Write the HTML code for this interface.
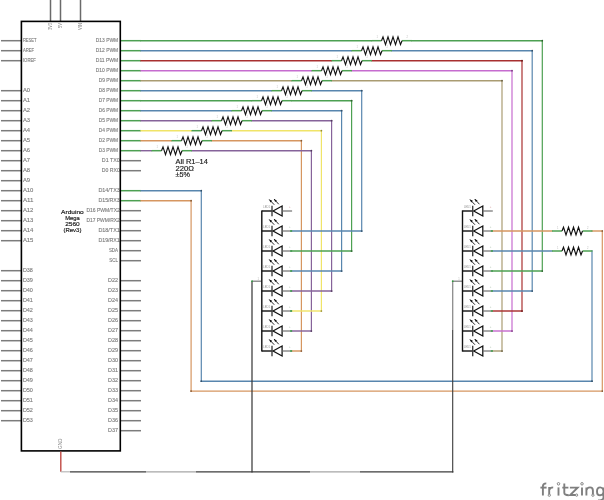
<!DOCTYPE html>
<html><head><meta charset="utf-8"><style>
html,body{margin:0;padding:0;background:#fff;}
svg{display:block;font-family:"Liberation Sans",sans-serif;will-change:transform;}
</style></head><body>
<svg width="604" height="500" viewBox="0 0 604 500">
<rect width="604" height="500" fill="#fff"/>
<line x1="1" y1="40.7" x2="21.4" y2="40.7" stroke="#7c7c7c" stroke-width="1.5" stroke-linecap="butt"/>
<text x="22.9" y="42.45" font-size="4.8" fill="#7e7e7e" text-anchor="start" textLength="13.6" lengthAdjust="spacingAndGlyphs" stroke="#7e7e7e" stroke-width="0.12">RESET</text>
<line x1="1" y1="50.7" x2="21.4" y2="50.7" stroke="#7c7c7c" stroke-width="1.5" stroke-linecap="butt"/>
<text x="22.9" y="52.45" font-size="4.8" fill="#7e7e7e" text-anchor="start" textLength="11.200000000000001" lengthAdjust="spacingAndGlyphs" stroke="#7e7e7e" stroke-width="0.12">AREF</text>
<line x1="1" y1="60.7" x2="21.4" y2="60.7" stroke="#7c7c7c" stroke-width="1.5" stroke-linecap="butt"/>
<text x="22.9" y="62.45" font-size="4.8" fill="#7e7e7e" text-anchor="start" textLength="13.0" lengthAdjust="spacingAndGlyphs" stroke="#7e7e7e" stroke-width="0.12">IOREF</text>
<line x1="1" y1="90.7" x2="21.4" y2="90.7" stroke="#7c7c7c" stroke-width="1.5" stroke-linecap="butt"/>
<text x="22.9" y="92.45" font-size="4.8" fill="#7e7e7e" text-anchor="start" textLength="7.1000000000000005" lengthAdjust="spacingAndGlyphs" stroke="#7e7e7e" stroke-width="0.12">A0</text>
<line x1="1" y1="100.7" x2="21.4" y2="100.7" stroke="#7c7c7c" stroke-width="1.5" stroke-linecap="butt"/>
<text x="22.9" y="102.45" font-size="4.8" fill="#7e7e7e" text-anchor="start" textLength="7.1000000000000005" lengthAdjust="spacingAndGlyphs" stroke="#7e7e7e" stroke-width="0.12">A1</text>
<line x1="1" y1="110.7" x2="21.4" y2="110.7" stroke="#7c7c7c" stroke-width="1.5" stroke-linecap="butt"/>
<text x="22.9" y="112.45" font-size="4.8" fill="#7e7e7e" text-anchor="start" textLength="7.1000000000000005" lengthAdjust="spacingAndGlyphs" stroke="#7e7e7e" stroke-width="0.12">A2</text>
<line x1="1" y1="120.7" x2="21.4" y2="120.7" stroke="#7c7c7c" stroke-width="1.5" stroke-linecap="butt"/>
<text x="22.9" y="122.45" font-size="4.8" fill="#7e7e7e" text-anchor="start" textLength="7.1000000000000005" lengthAdjust="spacingAndGlyphs" stroke="#7e7e7e" stroke-width="0.12">A3</text>
<line x1="1" y1="130.7" x2="21.4" y2="130.7" stroke="#7c7c7c" stroke-width="1.5" stroke-linecap="butt"/>
<text x="22.9" y="132.45" font-size="4.8" fill="#7e7e7e" text-anchor="start" textLength="7.1000000000000005" lengthAdjust="spacingAndGlyphs" stroke="#7e7e7e" stroke-width="0.12">A4</text>
<line x1="1" y1="140.7" x2="21.4" y2="140.7" stroke="#7c7c7c" stroke-width="1.5" stroke-linecap="butt"/>
<text x="22.9" y="142.45" font-size="4.8" fill="#7e7e7e" text-anchor="start" textLength="7.1000000000000005" lengthAdjust="spacingAndGlyphs" stroke="#7e7e7e" stroke-width="0.12">A5</text>
<line x1="1" y1="150.7" x2="21.4" y2="150.7" stroke="#7c7c7c" stroke-width="1.5" stroke-linecap="butt"/>
<text x="22.9" y="152.45" font-size="4.8" fill="#7e7e7e" text-anchor="start" textLength="7.1000000000000005" lengthAdjust="spacingAndGlyphs" stroke="#7e7e7e" stroke-width="0.12">A6</text>
<line x1="1" y1="160.7" x2="21.4" y2="160.7" stroke="#7c7c7c" stroke-width="1.5" stroke-linecap="butt"/>
<text x="22.9" y="162.45" font-size="4.8" fill="#7e7e7e" text-anchor="start" textLength="7.1000000000000005" lengthAdjust="spacingAndGlyphs" stroke="#7e7e7e" stroke-width="0.12">A7</text>
<line x1="1" y1="170.7" x2="21.4" y2="170.7" stroke="#7c7c7c" stroke-width="1.5" stroke-linecap="butt"/>
<text x="22.9" y="172.45" font-size="4.8" fill="#7e7e7e" text-anchor="start" textLength="7.1000000000000005" lengthAdjust="spacingAndGlyphs" stroke="#7e7e7e" stroke-width="0.12">A8</text>
<line x1="1" y1="180.7" x2="21.4" y2="180.7" stroke="#7c7c7c" stroke-width="1.5" stroke-linecap="butt"/>
<text x="22.9" y="182.45" font-size="4.8" fill="#7e7e7e" text-anchor="start" textLength="7.1000000000000005" lengthAdjust="spacingAndGlyphs" stroke="#7e7e7e" stroke-width="0.12">A9</text>
<line x1="1" y1="190.7" x2="21.4" y2="190.7" stroke="#7c7c7c" stroke-width="1.5" stroke-linecap="butt"/>
<text x="22.9" y="192.45" font-size="4.8" fill="#7e7e7e" text-anchor="start" textLength="10.5" lengthAdjust="spacingAndGlyphs" stroke="#7e7e7e" stroke-width="0.12">A10</text>
<line x1="1" y1="200.7" x2="21.4" y2="200.7" stroke="#7c7c7c" stroke-width="1.5" stroke-linecap="butt"/>
<text x="22.9" y="202.45" font-size="4.8" fill="#7e7e7e" text-anchor="start" textLength="10.5" lengthAdjust="spacingAndGlyphs" stroke="#7e7e7e" stroke-width="0.12">A11</text>
<line x1="1" y1="210.7" x2="21.4" y2="210.7" stroke="#7c7c7c" stroke-width="1.5" stroke-linecap="butt"/>
<text x="22.9" y="212.45" font-size="4.8" fill="#7e7e7e" text-anchor="start" textLength="10.5" lengthAdjust="spacingAndGlyphs" stroke="#7e7e7e" stroke-width="0.12">A12</text>
<line x1="1" y1="220.7" x2="21.4" y2="220.7" stroke="#7c7c7c" stroke-width="1.5" stroke-linecap="butt"/>
<text x="22.9" y="222.45" font-size="4.8" fill="#7e7e7e" text-anchor="start" textLength="10.5" lengthAdjust="spacingAndGlyphs" stroke="#7e7e7e" stroke-width="0.12">A13</text>
<line x1="1" y1="230.7" x2="21.4" y2="230.7" stroke="#7c7c7c" stroke-width="1.5" stroke-linecap="butt"/>
<text x="22.9" y="232.45" font-size="4.8" fill="#7e7e7e" text-anchor="start" textLength="10.5" lengthAdjust="spacingAndGlyphs" stroke="#7e7e7e" stroke-width="0.12">A14</text>
<line x1="1" y1="240.7" x2="21.4" y2="240.7" stroke="#7c7c7c" stroke-width="1.5" stroke-linecap="butt"/>
<text x="22.9" y="242.45" font-size="4.8" fill="#7e7e7e" text-anchor="start" textLength="10.5" lengthAdjust="spacingAndGlyphs" stroke="#7e7e7e" stroke-width="0.12">A15</text>
<line x1="1" y1="270.7" x2="21.4" y2="270.7" stroke="#7c7c7c" stroke-width="1.5" stroke-linecap="butt"/>
<text x="22.9" y="272.45" font-size="4.8" fill="#7e7e7e" text-anchor="start" textLength="10.0" lengthAdjust="spacingAndGlyphs" stroke="#7e7e7e" stroke-width="0.12">D38</text>
<line x1="1" y1="280.7" x2="21.4" y2="280.7" stroke="#7c7c7c" stroke-width="1.5" stroke-linecap="butt"/>
<text x="22.9" y="282.45" font-size="4.8" fill="#7e7e7e" text-anchor="start" textLength="10.0" lengthAdjust="spacingAndGlyphs" stroke="#7e7e7e" stroke-width="0.12">D39</text>
<line x1="1" y1="290.7" x2="21.4" y2="290.7" stroke="#7c7c7c" stroke-width="1.5" stroke-linecap="butt"/>
<text x="22.9" y="292.45" font-size="4.8" fill="#7e7e7e" text-anchor="start" textLength="10.0" lengthAdjust="spacingAndGlyphs" stroke="#7e7e7e" stroke-width="0.12">D40</text>
<line x1="1" y1="300.7" x2="21.4" y2="300.7" stroke="#7c7c7c" stroke-width="1.5" stroke-linecap="butt"/>
<text x="22.9" y="302.45" font-size="4.8" fill="#7e7e7e" text-anchor="start" textLength="10.0" lengthAdjust="spacingAndGlyphs" stroke="#7e7e7e" stroke-width="0.12">D41</text>
<line x1="1" y1="310.7" x2="21.4" y2="310.7" stroke="#7c7c7c" stroke-width="1.5" stroke-linecap="butt"/>
<text x="22.9" y="312.45" font-size="4.8" fill="#7e7e7e" text-anchor="start" textLength="10.0" lengthAdjust="spacingAndGlyphs" stroke="#7e7e7e" stroke-width="0.12">D42</text>
<line x1="1" y1="320.7" x2="21.4" y2="320.7" stroke="#7c7c7c" stroke-width="1.5" stroke-linecap="butt"/>
<text x="22.9" y="322.45" font-size="4.8" fill="#7e7e7e" text-anchor="start" textLength="10.0" lengthAdjust="spacingAndGlyphs" stroke="#7e7e7e" stroke-width="0.12">D43</text>
<line x1="1" y1="330.7" x2="21.4" y2="330.7" stroke="#7c7c7c" stroke-width="1.5" stroke-linecap="butt"/>
<text x="22.9" y="332.45" font-size="4.8" fill="#7e7e7e" text-anchor="start" textLength="10.0" lengthAdjust="spacingAndGlyphs" stroke="#7e7e7e" stroke-width="0.12">D44</text>
<line x1="1" y1="340.7" x2="21.4" y2="340.7" stroke="#7c7c7c" stroke-width="1.5" stroke-linecap="butt"/>
<text x="22.9" y="342.45" font-size="4.8" fill="#7e7e7e" text-anchor="start" textLength="10.0" lengthAdjust="spacingAndGlyphs" stroke="#7e7e7e" stroke-width="0.12">D45</text>
<line x1="1" y1="350.7" x2="21.4" y2="350.7" stroke="#7c7c7c" stroke-width="1.5" stroke-linecap="butt"/>
<text x="22.9" y="352.45" font-size="4.8" fill="#7e7e7e" text-anchor="start" textLength="10.0" lengthAdjust="spacingAndGlyphs" stroke="#7e7e7e" stroke-width="0.12">D46</text>
<line x1="1" y1="360.7" x2="21.4" y2="360.7" stroke="#7c7c7c" stroke-width="1.5" stroke-linecap="butt"/>
<text x="22.9" y="362.45" font-size="4.8" fill="#7e7e7e" text-anchor="start" textLength="10.0" lengthAdjust="spacingAndGlyphs" stroke="#7e7e7e" stroke-width="0.12">D47</text>
<line x1="1" y1="370.7" x2="21.4" y2="370.7" stroke="#7c7c7c" stroke-width="1.5" stroke-linecap="butt"/>
<text x="22.9" y="372.45" font-size="4.8" fill="#7e7e7e" text-anchor="start" textLength="10.0" lengthAdjust="spacingAndGlyphs" stroke="#7e7e7e" stroke-width="0.12">D48</text>
<line x1="1" y1="380.7" x2="21.4" y2="380.7" stroke="#7c7c7c" stroke-width="1.5" stroke-linecap="butt"/>
<text x="22.9" y="382.45" font-size="4.8" fill="#7e7e7e" text-anchor="start" textLength="10.0" lengthAdjust="spacingAndGlyphs" stroke="#7e7e7e" stroke-width="0.12">D49</text>
<line x1="1" y1="390.7" x2="21.4" y2="390.7" stroke="#7c7c7c" stroke-width="1.5" stroke-linecap="butt"/>
<text x="22.9" y="392.45" font-size="4.8" fill="#7e7e7e" text-anchor="start" textLength="10.0" lengthAdjust="spacingAndGlyphs" stroke="#7e7e7e" stroke-width="0.12">D50</text>
<line x1="1" y1="400.7" x2="21.4" y2="400.7" stroke="#7c7c7c" stroke-width="1.5" stroke-linecap="butt"/>
<text x="22.9" y="402.45" font-size="4.8" fill="#7e7e7e" text-anchor="start" textLength="10.0" lengthAdjust="spacingAndGlyphs" stroke="#7e7e7e" stroke-width="0.12">D51</text>
<line x1="1" y1="410.7" x2="21.4" y2="410.7" stroke="#7c7c7c" stroke-width="1.5" stroke-linecap="butt"/>
<text x="22.9" y="412.45" font-size="4.8" fill="#7e7e7e" text-anchor="start" textLength="10.0" lengthAdjust="spacingAndGlyphs" stroke="#7e7e7e" stroke-width="0.12">D52</text>
<line x1="1" y1="420.7" x2="21.4" y2="420.7" stroke="#7c7c7c" stroke-width="1.5" stroke-linecap="butt"/>
<text x="22.9" y="422.45" font-size="4.8" fill="#7e7e7e" text-anchor="start" textLength="10.0" lengthAdjust="spacingAndGlyphs" stroke="#7e7e7e" stroke-width="0.12">D53</text>
<line x1="120.3" y1="40.7" x2="141" y2="40.7" stroke="#4da052" stroke-width="1.5" stroke-linecap="butt"/>
<text x="118.1" y="42.45" font-size="4.8" fill="#7e7e7e" text-anchor="end" textLength="22.299999999999997" lengthAdjust="spacingAndGlyphs" stroke="#7e7e7e" stroke-width="0.12">D13 PWM</text>
<line x1="120.3" y1="50.7" x2="141" y2="50.7" stroke="#4da052" stroke-width="1.5" stroke-linecap="butt"/>
<text x="118.1" y="52.45" font-size="4.8" fill="#7e7e7e" text-anchor="end" textLength="22.299999999999997" lengthAdjust="spacingAndGlyphs" stroke="#7e7e7e" stroke-width="0.12">D12 PWM</text>
<line x1="120.3" y1="60.7" x2="141" y2="60.7" stroke="#4da052" stroke-width="1.5" stroke-linecap="butt"/>
<text x="118.1" y="62.45" font-size="4.8" fill="#7e7e7e" text-anchor="end" textLength="22.299999999999997" lengthAdjust="spacingAndGlyphs" stroke="#7e7e7e" stroke-width="0.12">D11 PWM</text>
<line x1="120.3" y1="70.7" x2="141" y2="70.7" stroke="#4da052" stroke-width="1.5" stroke-linecap="butt"/>
<text x="118.1" y="72.45" font-size="4.8" fill="#7e7e7e" text-anchor="end" textLength="22.299999999999997" lengthAdjust="spacingAndGlyphs" stroke="#7e7e7e" stroke-width="0.12">D10 PWM</text>
<line x1="120.3" y1="80.7" x2="141" y2="80.7" stroke="#4da052" stroke-width="1.5" stroke-linecap="butt"/>
<text x="118.1" y="82.45" font-size="4.8" fill="#7e7e7e" text-anchor="end" textLength="19.4" lengthAdjust="spacingAndGlyphs" stroke="#7e7e7e" stroke-width="0.12">D9 PWM</text>
<line x1="120.3" y1="90.7" x2="141" y2="90.7" stroke="#4da052" stroke-width="1.5" stroke-linecap="butt"/>
<text x="118.1" y="92.45" font-size="4.8" fill="#7e7e7e" text-anchor="end" textLength="19.4" lengthAdjust="spacingAndGlyphs" stroke="#7e7e7e" stroke-width="0.12">D8 PWM</text>
<line x1="120.3" y1="100.7" x2="141" y2="100.7" stroke="#4da052" stroke-width="1.5" stroke-linecap="butt"/>
<text x="118.1" y="102.45" font-size="4.8" fill="#7e7e7e" text-anchor="end" textLength="19.4" lengthAdjust="spacingAndGlyphs" stroke="#7e7e7e" stroke-width="0.12">D7 PWM</text>
<line x1="120.3" y1="110.7" x2="141" y2="110.7" stroke="#4da052" stroke-width="1.5" stroke-linecap="butt"/>
<text x="118.1" y="112.45" font-size="4.8" fill="#7e7e7e" text-anchor="end" textLength="19.4" lengthAdjust="spacingAndGlyphs" stroke="#7e7e7e" stroke-width="0.12">D6 PWM</text>
<line x1="120.3" y1="120.7" x2="141" y2="120.7" stroke="#4da052" stroke-width="1.5" stroke-linecap="butt"/>
<text x="118.1" y="122.45" font-size="4.8" fill="#7e7e7e" text-anchor="end" textLength="19.4" lengthAdjust="spacingAndGlyphs" stroke="#7e7e7e" stroke-width="0.12">D5 PWM</text>
<line x1="120.3" y1="130.7" x2="141" y2="130.7" stroke="#4da052" stroke-width="1.5" stroke-linecap="butt"/>
<text x="118.1" y="132.45" font-size="4.8" fill="#7e7e7e" text-anchor="end" textLength="19.4" lengthAdjust="spacingAndGlyphs" stroke="#7e7e7e" stroke-width="0.12">D4 PWM</text>
<line x1="120.3" y1="140.7" x2="141" y2="140.7" stroke="#4da052" stroke-width="1.5" stroke-linecap="butt"/>
<text x="118.1" y="142.45" font-size="4.8" fill="#7e7e7e" text-anchor="end" textLength="19.4" lengthAdjust="spacingAndGlyphs" stroke="#7e7e7e" stroke-width="0.12">D2 PWM</text>
<line x1="120.3" y1="150.7" x2="141" y2="150.7" stroke="#4da052" stroke-width="1.5" stroke-linecap="butt"/>
<text x="118.1" y="152.45" font-size="4.8" fill="#7e7e7e" text-anchor="end" textLength="19.4" lengthAdjust="spacingAndGlyphs" stroke="#7e7e7e" stroke-width="0.12">D3 PWM</text>
<line x1="120.3" y1="160.7" x2="141" y2="160.7" stroke="#7c7c7c" stroke-width="1.5" stroke-linecap="butt"/>
<text x="119.8" y="162.45" font-size="4.8" fill="#7e7e7e" text-anchor="end" textLength="18.0" lengthAdjust="spacingAndGlyphs" stroke="#7e7e7e" stroke-width="0.12">D1 TX0</text>
<line x1="120.3" y1="170.7" x2="141" y2="170.7" stroke="#7c7c7c" stroke-width="1.5" stroke-linecap="butt"/>
<text x="119.8" y="172.45" font-size="4.8" fill="#7e7e7e" text-anchor="end" textLength="18.0" lengthAdjust="spacingAndGlyphs" stroke="#7e7e7e" stroke-width="0.12">D0 RX0</text>
<line x1="120.3" y1="190.7" x2="141" y2="190.7" stroke="#4da052" stroke-width="1.5" stroke-linecap="butt"/>
<text x="119.8" y="192.45" font-size="4.8" fill="#7e7e7e" text-anchor="end" textLength="21.4" lengthAdjust="spacingAndGlyphs" stroke="#7e7e7e" stroke-width="0.12">D14/TX3</text>
<line x1="120.3" y1="200.7" x2="141" y2="200.7" stroke="#4da052" stroke-width="1.5" stroke-linecap="butt"/>
<text x="119.8" y="202.45" font-size="4.8" fill="#7e7e7e" text-anchor="end" textLength="21.4" lengthAdjust="spacingAndGlyphs" stroke="#7e7e7e" stroke-width="0.12">D15/RX3</text>
<line x1="120.3" y1="210.7" x2="141" y2="210.7" stroke="#7c7c7c" stroke-width="1.5" stroke-linecap="butt"/>
<text x="119.8" y="212.45" font-size="4.8" fill="#7e7e7e" text-anchor="end" textLength="33.4" lengthAdjust="spacingAndGlyphs" stroke="#7e7e7e" stroke-width="0.12">D16 PWM/TX2</text>
<line x1="120.3" y1="220.7" x2="141" y2="220.7" stroke="#7c7c7c" stroke-width="1.5" stroke-linecap="butt"/>
<text x="119.8" y="222.45" font-size="4.8" fill="#7e7e7e" text-anchor="end" textLength="33.4" lengthAdjust="spacingAndGlyphs" stroke="#7e7e7e" stroke-width="0.12">D17 PWM/RX2</text>
<line x1="120.3" y1="230.7" x2="141" y2="230.7" stroke="#7c7c7c" stroke-width="1.5" stroke-linecap="butt"/>
<text x="119.8" y="232.45" font-size="4.8" fill="#7e7e7e" text-anchor="end" textLength="21.4" lengthAdjust="spacingAndGlyphs" stroke="#7e7e7e" stroke-width="0.12">D18/TX1</text>
<line x1="120.3" y1="240.7" x2="141" y2="240.7" stroke="#7c7c7c" stroke-width="1.5" stroke-linecap="butt"/>
<text x="119.8" y="242.45" font-size="4.8" fill="#7e7e7e" text-anchor="end" textLength="21.4" lengthAdjust="spacingAndGlyphs" stroke="#7e7e7e" stroke-width="0.12">D19/RX1</text>
<line x1="120.3" y1="250.7" x2="141" y2="250.7" stroke="#7c7c7c" stroke-width="1.5" stroke-linecap="butt"/>
<text x="118.1" y="252.45" font-size="4.8" fill="#7e7e7e" text-anchor="end" textLength="9.200000000000001" lengthAdjust="spacingAndGlyphs" stroke="#7e7e7e" stroke-width="0.12">SDA</text>
<line x1="120.3" y1="260.7" x2="141" y2="260.7" stroke="#7c7c7c" stroke-width="1.5" stroke-linecap="butt"/>
<text x="118.1" y="262.45" font-size="4.8" fill="#7e7e7e" text-anchor="end" textLength="8.8" lengthAdjust="spacingAndGlyphs" stroke="#7e7e7e" stroke-width="0.12">SCL</text>
<line x1="120.3" y1="280.7" x2="141" y2="280.7" stroke="#7c7c7c" stroke-width="1.5" stroke-linecap="butt"/>
<text x="118.1" y="282.45" font-size="4.8" fill="#7e7e7e" text-anchor="end" textLength="10.0" lengthAdjust="spacingAndGlyphs" stroke="#7e7e7e" stroke-width="0.12">D22</text>
<line x1="120.3" y1="290.7" x2="141" y2="290.7" stroke="#7c7c7c" stroke-width="1.5" stroke-linecap="butt"/>
<text x="118.1" y="292.45" font-size="4.8" fill="#7e7e7e" text-anchor="end" textLength="10.0" lengthAdjust="spacingAndGlyphs" stroke="#7e7e7e" stroke-width="0.12">D23</text>
<line x1="120.3" y1="300.7" x2="141" y2="300.7" stroke="#7c7c7c" stroke-width="1.5" stroke-linecap="butt"/>
<text x="118.1" y="302.45" font-size="4.8" fill="#7e7e7e" text-anchor="end" textLength="10.0" lengthAdjust="spacingAndGlyphs" stroke="#7e7e7e" stroke-width="0.12">D24</text>
<line x1="120.3" y1="310.7" x2="141" y2="310.7" stroke="#7c7c7c" stroke-width="1.5" stroke-linecap="butt"/>
<text x="118.1" y="312.45" font-size="4.8" fill="#7e7e7e" text-anchor="end" textLength="10.0" lengthAdjust="spacingAndGlyphs" stroke="#7e7e7e" stroke-width="0.12">D25</text>
<line x1="120.3" y1="320.7" x2="141" y2="320.7" stroke="#7c7c7c" stroke-width="1.5" stroke-linecap="butt"/>
<text x="118.1" y="322.45" font-size="4.8" fill="#7e7e7e" text-anchor="end" textLength="10.0" lengthAdjust="spacingAndGlyphs" stroke="#7e7e7e" stroke-width="0.12">D26</text>
<line x1="120.3" y1="330.7" x2="141" y2="330.7" stroke="#7c7c7c" stroke-width="1.5" stroke-linecap="butt"/>
<text x="118.1" y="332.45" font-size="4.8" fill="#7e7e7e" text-anchor="end" textLength="10.0" lengthAdjust="spacingAndGlyphs" stroke="#7e7e7e" stroke-width="0.12">D27</text>
<line x1="120.3" y1="340.7" x2="141" y2="340.7" stroke="#7c7c7c" stroke-width="1.5" stroke-linecap="butt"/>
<text x="118.1" y="342.45" font-size="4.8" fill="#7e7e7e" text-anchor="end" textLength="10.0" lengthAdjust="spacingAndGlyphs" stroke="#7e7e7e" stroke-width="0.12">D28</text>
<line x1="120.3" y1="350.7" x2="141" y2="350.7" stroke="#7c7c7c" stroke-width="1.5" stroke-linecap="butt"/>
<text x="118.1" y="352.45" font-size="4.8" fill="#7e7e7e" text-anchor="end" textLength="10.0" lengthAdjust="spacingAndGlyphs" stroke="#7e7e7e" stroke-width="0.12">D29</text>
<line x1="120.3" y1="360.7" x2="141" y2="360.7" stroke="#7c7c7c" stroke-width="1.5" stroke-linecap="butt"/>
<text x="118.1" y="362.45" font-size="4.8" fill="#7e7e7e" text-anchor="end" textLength="10.0" lengthAdjust="spacingAndGlyphs" stroke="#7e7e7e" stroke-width="0.12">D30</text>
<line x1="120.3" y1="370.7" x2="141" y2="370.7" stroke="#7c7c7c" stroke-width="1.5" stroke-linecap="butt"/>
<text x="118.1" y="372.45" font-size="4.8" fill="#7e7e7e" text-anchor="end" textLength="10.0" lengthAdjust="spacingAndGlyphs" stroke="#7e7e7e" stroke-width="0.12">D31</text>
<line x1="120.3" y1="380.7" x2="141" y2="380.7" stroke="#7c7c7c" stroke-width="1.5" stroke-linecap="butt"/>
<text x="118.1" y="382.45" font-size="4.8" fill="#7e7e7e" text-anchor="end" textLength="10.0" lengthAdjust="spacingAndGlyphs" stroke="#7e7e7e" stroke-width="0.12">D32</text>
<line x1="120.3" y1="390.7" x2="141" y2="390.7" stroke="#7c7c7c" stroke-width="1.5" stroke-linecap="butt"/>
<text x="118.1" y="392.45" font-size="4.8" fill="#7e7e7e" text-anchor="end" textLength="10.0" lengthAdjust="spacingAndGlyphs" stroke="#7e7e7e" stroke-width="0.12">D33</text>
<line x1="120.3" y1="400.7" x2="141" y2="400.7" stroke="#7c7c7c" stroke-width="1.5" stroke-linecap="butt"/>
<text x="118.1" y="402.45" font-size="4.8" fill="#7e7e7e" text-anchor="end" textLength="10.0" lengthAdjust="spacingAndGlyphs" stroke="#7e7e7e" stroke-width="0.12">D34</text>
<line x1="120.3" y1="410.7" x2="141" y2="410.7" stroke="#7c7c7c" stroke-width="1.5" stroke-linecap="butt"/>
<text x="118.1" y="412.45" font-size="4.8" fill="#7e7e7e" text-anchor="end" textLength="10.0" lengthAdjust="spacingAndGlyphs" stroke="#7e7e7e" stroke-width="0.12">D35</text>
<line x1="120.3" y1="420.7" x2="141" y2="420.7" stroke="#7c7c7c" stroke-width="1.5" stroke-linecap="butt"/>
<text x="118.1" y="422.45" font-size="4.8" fill="#7e7e7e" text-anchor="end" textLength="10.0" lengthAdjust="spacingAndGlyphs" stroke="#7e7e7e" stroke-width="0.12">D36</text>
<line x1="120.3" y1="430.7" x2="141" y2="430.7" stroke="#7c7c7c" stroke-width="1.5" stroke-linecap="butt"/>
<text x="118.1" y="432.45" font-size="4.8" fill="#7e7e7e" text-anchor="end" textLength="10.0" lengthAdjust="spacingAndGlyphs" stroke="#7e7e7e" stroke-width="0.12">D37</text>
<line x1="50.5" y1="0" x2="50.5" y2="21.4" stroke="#6a6a6a" stroke-width="1.5" stroke-linecap="butt"/>
<text transform="translate(51.7,23.0) rotate(-90)" font-size="4.8" fill="#7e7e7e" text-anchor="end" textLength="6.9" lengthAdjust="spacingAndGlyphs">3V3</text>
<line x1="60.5" y1="0" x2="60.5" y2="21.4" stroke="#6a6a6a" stroke-width="1.5" stroke-linecap="butt"/>
<text transform="translate(61.7,23.0) rotate(-90)" font-size="4.8" fill="#7e7e7e" text-anchor="end" textLength="4.9" lengthAdjust="spacingAndGlyphs">5V</text>
<line x1="80.5" y1="0" x2="80.5" y2="21.4" stroke="#6a6a6a" stroke-width="1.5" stroke-linecap="butt"/>
<text transform="translate(81.7,23.0) rotate(-90)" font-size="4.8" fill="#7e7e7e" text-anchor="end" textLength="6.9" lengthAdjust="spacingAndGlyphs">VIN</text>
<text transform="translate(61.7,449.09999999999997) rotate(-90)" font-size="4.8" fill="#7e7e7e" text-anchor="start">GND</text>
<rect x="21.4" y="21.4" width="98.9" height="429.5" fill="none" stroke="#000" stroke-width="1.6"/>
<text x="72.4" y="214.0" font-size="6.2" fill="#1a1a1a" text-anchor="middle" textLength="22.7" lengthAdjust="spacingAndGlyphs" stroke="#1a1a1a" stroke-width="0.18">Arduino</text>
<text x="72.4" y="220.1" font-size="6.2" fill="#1a1a1a" text-anchor="middle" textLength="14.5" lengthAdjust="spacingAndGlyphs" stroke="#1a1a1a" stroke-width="0.18">Mega</text>
<text x="72.4" y="226.2" font-size="6.2" fill="#1a1a1a" text-anchor="middle" textLength="14.5" lengthAdjust="spacingAndGlyphs" stroke="#1a1a1a" stroke-width="0.18">2560</text>
<text x="72.4" y="232.3" font-size="6.2" fill="#1a1a1a" text-anchor="middle" textLength="18" lengthAdjust="spacingAndGlyphs" stroke="#1a1a1a" stroke-width="0.18">(Rev3)</text>
<line x1="542.3" y1="39.975" x2="542.3" y2="271.725" stroke="#4da052" stroke-width="1.2"/>
<line x1="532.2" y1="49.975" x2="532.2" y2="291.725" stroke="#5886ae" stroke-width="1.2"/>
<line x1="522" y1="59.975" x2="522" y2="311.725" stroke="#a83030" stroke-width="1.2"/>
<line x1="512" y1="69.97500000000001" x2="512" y2="331.725" stroke="#c66ccf" stroke-width="1.2"/>
<line x1="502" y1="79.97500000000001" x2="502" y2="351.725" stroke="#aa9c72" stroke-width="1.2"/>
<line x1="361.7" y1="89.97500000000001" x2="361.7" y2="231.725" stroke="#5886ae" stroke-width="1.2"/>
<line x1="351.6" y1="99.97500000000001" x2="351.6" y2="251.725" stroke="#4da052" stroke-width="1.2"/>
<line x1="341.6" y1="109.97500000000001" x2="341.6" y2="271.725" stroke="#5886ae" stroke-width="1.2"/>
<line x1="331.6" y1="119.97500000000001" x2="331.6" y2="291.725" stroke="#86639a" stroke-width="1.2"/>
<line x1="321.4" y1="129.975" x2="321.4" y2="311.725" stroke="#f0e468" stroke-width="1.2"/>
<line x1="301.4" y1="139.975" x2="301.4" y2="351.725" stroke="#d69660" stroke-width="1.2"/>
<line x1="311.4" y1="149.975" x2="311.4" y2="331.725" stroke="#86639a" stroke-width="1.2"/>
<line x1="201.3" y1="189.975" x2="201.3" y2="381.925" stroke="#5886ae" stroke-width="1.2"/>
<line x1="592" y1="250.275" x2="592" y2="381.925" stroke="#5886ae" stroke-width="1.2"/>
<line x1="191.1" y1="199.975" x2="191.1" y2="391.82500000000005" stroke="#d69660" stroke-width="1.2"/>
<line x1="602.3" y1="230.275" x2="602.3" y2="391.82500000000005" stroke="#d69660" stroke-width="1.2"/>
<line x1="140.4" y1="40.7" x2="372.1" y2="40.7" stroke="#4da052" stroke-width="1.45"/>
<line x1="411.4" y1="40.7" x2="542.9" y2="40.7" stroke="#4da052" stroke-width="1.45"/>
<line x1="492.2" y1="271" x2="542.9" y2="271" stroke="#4da052" stroke-width="1.45"/>
<line x1="140.4" y1="50.7" x2="352.1" y2="50.7" stroke="#5886ae" stroke-width="1.45"/>
<line x1="391.4" y1="50.7" x2="532.8000000000001" y2="50.7" stroke="#5886ae" stroke-width="1.45"/>
<line x1="492.2" y1="291" x2="532.8000000000001" y2="291" stroke="#5886ae" stroke-width="1.45"/>
<line x1="140.4" y1="60.7" x2="332.1" y2="60.7" stroke="#a83030" stroke-width="1.45"/>
<line x1="371.4" y1="60.7" x2="522.6" y2="60.7" stroke="#a83030" stroke-width="1.45"/>
<line x1="492.2" y1="311" x2="522.6" y2="311" stroke="#a83030" stroke-width="1.45"/>
<line x1="140.4" y1="70.7" x2="312.1" y2="70.7" stroke="#c66ccf" stroke-width="1.45"/>
<line x1="351.4" y1="70.7" x2="512.6" y2="70.7" stroke="#c66ccf" stroke-width="1.45"/>
<line x1="492.2" y1="331" x2="512.6" y2="331" stroke="#c66ccf" stroke-width="1.45"/>
<line x1="140.4" y1="80.7" x2="292.1" y2="80.7" stroke="#aa9c72" stroke-width="1.45"/>
<line x1="331.4" y1="80.7" x2="502.6" y2="80.7" stroke="#aa9c72" stroke-width="1.45"/>
<line x1="492.2" y1="351" x2="502.6" y2="351" stroke="#aa9c72" stroke-width="1.45"/>
<line x1="140.4" y1="90.7" x2="272.1" y2="90.7" stroke="#5886ae" stroke-width="1.45"/>
<line x1="311.4" y1="90.7" x2="362.3" y2="90.7" stroke="#5886ae" stroke-width="1.45"/>
<line x1="291.5" y1="231" x2="362.3" y2="231" stroke="#5886ae" stroke-width="1.45"/>
<line x1="140.4" y1="100.7" x2="252.1" y2="100.7" stroke="#4da052" stroke-width="1.45"/>
<line x1="291.4" y1="100.7" x2="352.20000000000005" y2="100.7" stroke="#4da052" stroke-width="1.45"/>
<line x1="291.5" y1="251" x2="352.20000000000005" y2="251" stroke="#4da052" stroke-width="1.45"/>
<line x1="140.4" y1="110.7" x2="232.1" y2="110.7" stroke="#5886ae" stroke-width="1.45"/>
<line x1="271.4" y1="110.7" x2="342.20000000000005" y2="110.7" stroke="#5886ae" stroke-width="1.45"/>
<line x1="291.5" y1="271" x2="342.20000000000005" y2="271" stroke="#5886ae" stroke-width="1.45"/>
<line x1="140.4" y1="120.7" x2="212.1" y2="120.7" stroke="#86639a" stroke-width="1.45"/>
<line x1="251.4" y1="120.7" x2="332.20000000000005" y2="120.7" stroke="#86639a" stroke-width="1.45"/>
<line x1="291.5" y1="291" x2="332.20000000000005" y2="291" stroke="#86639a" stroke-width="1.45"/>
<line x1="140.4" y1="130.7" x2="192.1" y2="130.7" stroke="#f0e468" stroke-width="1.45"/>
<line x1="231.4" y1="130.7" x2="322.0" y2="130.7" stroke="#f0e468" stroke-width="1.45"/>
<line x1="291.5" y1="311" x2="322.0" y2="311" stroke="#f0e468" stroke-width="1.45"/>
<line x1="140.4" y1="140.7" x2="172.1" y2="140.7" stroke="#d69660" stroke-width="1.45"/>
<line x1="211.4" y1="140.7" x2="302.0" y2="140.7" stroke="#d69660" stroke-width="1.45"/>
<line x1="291.5" y1="351" x2="302.0" y2="351" stroke="#d69660" stroke-width="1.45"/>
<line x1="140.4" y1="150.7" x2="152.1" y2="150.7" stroke="#86639a" stroke-width="1.45"/>
<line x1="191.4" y1="150.7" x2="312.0" y2="150.7" stroke="#86639a" stroke-width="1.45"/>
<line x1="291.5" y1="331" x2="312.0" y2="331" stroke="#86639a" stroke-width="1.45"/>
<line x1="140.4" y1="190.7" x2="201.9" y2="190.7" stroke="#5886ae" stroke-width="1.45"/>
<line x1="200.70000000000002" y1="381.2" x2="592.6" y2="381.2" stroke="#5886ae" stroke-width="1.45"/>
<line x1="492.2" y1="251" x2="552.6" y2="251" stroke="#5886ae" stroke-width="1.45"/>
<line x1="140.4" y1="200.7" x2="191.7" y2="200.7" stroke="#d69660" stroke-width="1.45"/>
<line x1="190.5" y1="391.1" x2="602.9" y2="391.1" stroke="#d69660" stroke-width="1.45"/>
<line x1="591.4" y1="231" x2="602.9" y2="231" stroke="#d69660" stroke-width="1.45"/>
<line x1="492.2" y1="231" x2="552.6" y2="231" stroke="#d69660" stroke-width="1.45"/>
<line x1="60.8" y1="451.5" x2="60.8" y2="471.8" stroke="#c04a44" stroke-width="1.4" stroke-linecap="butt"/>
<line x1="60.8" y1="471.8" x2="70" y2="471.8" stroke="#b8b8b8" stroke-width="1.2" stroke-linecap="butt"/>
<line x1="70" y1="471.8" x2="146" y2="471.8" stroke="#3c3c3c" stroke-width="1.2" stroke-linecap="butt"/>
<line x1="146" y1="471.8" x2="196" y2="471.8" stroke="#a6a6a6" stroke-width="1.2" stroke-linecap="butt"/>
<line x1="196" y1="471.8" x2="310" y2="471.8" stroke="#3c3c3c" stroke-width="1.2" stroke-linecap="butt"/>
<line x1="310" y1="471.8" x2="360" y2="471.8" stroke="#a6a6a6" stroke-width="1.2" stroke-linecap="butt"/>
<line x1="360" y1="471.8" x2="453.4" y2="471.8" stroke="#3c3c3c" stroke-width="1.2" stroke-linecap="butt"/>
<line x1="252.0" y1="472.4" x2="252.0" y2="281.2" stroke="#333333" stroke-width="1.2" stroke-linecap="butt"/>
<text x="257.6" y="279.5" font-size="2.6" fill="#b0b0b0" text-anchor="start" >1</text>
<line x1="252.0" y1="281.2" x2="261.8" y2="281.2" stroke="#777" stroke-width="1.2" stroke-linecap="butt"/>
<circle cx="252.0" cy="281.2" r="0.9" fill="#2e9a3e"/>
<line x1="452.7" y1="472.4" x2="452.7" y2="330" stroke="#3a3a3a" stroke-width="1.1" stroke-linecap="butt"/>
<line x1="452.7" y1="330" x2="452.7" y2="281.2" stroke="#8c8c8c" stroke-width="1.3" stroke-linecap="butt"/>
<text x="458.3" y="279.5" font-size="2.6" fill="#b0b0b0" text-anchor="start" >1</text>
<line x1="452.7" y1="281.2" x2="462.5" y2="281.2" stroke="#777" stroke-width="1.2" stroke-linecap="butt"/>
<circle cx="452.7" cy="281.2" r="0.9" fill="#2e9a3e"/>
<line x1="371.5" y1="40.7" x2="381.5" y2="40.7" stroke="#4da052" stroke-width="1.5" stroke-linecap="butt"/>
<line x1="402.0" y1="40.7" x2="412.0" y2="40.7" stroke="#4da052" stroke-width="1.5" stroke-linecap="butt"/>
<polyline points="381.50,40.70 383.00,36.90 385.50,44.60 388.00,36.90 390.50,44.60 393.00,36.90 395.50,44.60 398.00,36.90 400.50,44.60 402.00,40.70" fill="none" stroke="#111" stroke-width="1.15" stroke-linejoin="miter"/>
<text x="376.5" y="38.2" font-size="2.6" fill="#bbbbbb" text-anchor="start" >1</text>
<text x="406.5" y="38.2" font-size="2.6" fill="#bbbbbb" text-anchor="start" >2</text>
<line x1="351.5" y1="50.7" x2="361.5" y2="50.7" stroke="#4da052" stroke-width="1.5" stroke-linecap="butt"/>
<line x1="382.0" y1="50.7" x2="392.0" y2="50.7" stroke="#4da052" stroke-width="1.5" stroke-linecap="butt"/>
<polyline points="361.50,50.70 363.00,46.90 365.50,54.60 368.00,46.90 370.50,54.60 373.00,46.90 375.50,54.60 378.00,46.90 380.50,54.60 382.00,50.70" fill="none" stroke="#111" stroke-width="1.15" stroke-linejoin="miter"/>
<text x="356.5" y="48.2" font-size="2.6" fill="#bbbbbb" text-anchor="start" >1</text>
<text x="386.5" y="48.2" font-size="2.6" fill="#bbbbbb" text-anchor="start" >2</text>
<line x1="331.5" y1="60.7" x2="341.5" y2="60.7" stroke="#4da052" stroke-width="1.5" stroke-linecap="butt"/>
<line x1="362.0" y1="60.7" x2="372.0" y2="60.7" stroke="#4da052" stroke-width="1.5" stroke-linecap="butt"/>
<polyline points="341.50,60.70 343.00,56.90 345.50,64.60 348.00,56.90 350.50,64.60 353.00,56.90 355.50,64.60 358.00,56.90 360.50,64.60 362.00,60.70" fill="none" stroke="#111" stroke-width="1.15" stroke-linejoin="miter"/>
<text x="336.5" y="58.2" font-size="2.6" fill="#bbbbbb" text-anchor="start" >1</text>
<text x="366.5" y="58.2" font-size="2.6" fill="#bbbbbb" text-anchor="start" >2</text>
<line x1="311.5" y1="70.7" x2="321.5" y2="70.7" stroke="#4da052" stroke-width="1.5" stroke-linecap="butt"/>
<line x1="342.0" y1="70.7" x2="352.0" y2="70.7" stroke="#4da052" stroke-width="1.5" stroke-linecap="butt"/>
<polyline points="321.50,70.70 323.00,66.90 325.50,74.60 328.00,66.90 330.50,74.60 333.00,66.90 335.50,74.60 338.00,66.90 340.50,74.60 342.00,70.70" fill="none" stroke="#111" stroke-width="1.15" stroke-linejoin="miter"/>
<text x="316.5" y="68.2" font-size="2.6" fill="#bbbbbb" text-anchor="start" >1</text>
<text x="346.5" y="68.2" font-size="2.6" fill="#bbbbbb" text-anchor="start" >2</text>
<line x1="291.5" y1="80.7" x2="301.5" y2="80.7" stroke="#4da052" stroke-width="1.5" stroke-linecap="butt"/>
<line x1="322.0" y1="80.7" x2="332.0" y2="80.7" stroke="#4da052" stroke-width="1.5" stroke-linecap="butt"/>
<polyline points="301.50,80.70 303.00,76.90 305.50,84.60 308.00,76.90 310.50,84.60 313.00,76.90 315.50,84.60 318.00,76.90 320.50,84.60 322.00,80.70" fill="none" stroke="#111" stroke-width="1.15" stroke-linejoin="miter"/>
<text x="296.5" y="78.2" font-size="2.6" fill="#bbbbbb" text-anchor="start" >1</text>
<text x="326.5" y="78.2" font-size="2.6" fill="#bbbbbb" text-anchor="start" >2</text>
<line x1="271.5" y1="90.7" x2="281.5" y2="90.7" stroke="#4da052" stroke-width="1.5" stroke-linecap="butt"/>
<line x1="302.0" y1="90.7" x2="312.0" y2="90.7" stroke="#4da052" stroke-width="1.5" stroke-linecap="butt"/>
<polyline points="281.50,90.70 283.00,86.90 285.50,94.60 288.00,86.90 290.50,94.60 293.00,86.90 295.50,94.60 298.00,86.90 300.50,94.60 302.00,90.70" fill="none" stroke="#111" stroke-width="1.15" stroke-linejoin="miter"/>
<text x="276.5" y="88.2" font-size="2.6" fill="#bbbbbb" text-anchor="start" >1</text>
<text x="306.5" y="88.2" font-size="2.6" fill="#bbbbbb" text-anchor="start" >2</text>
<line x1="251.5" y1="100.7" x2="261.5" y2="100.7" stroke="#4da052" stroke-width="1.5" stroke-linecap="butt"/>
<line x1="282.0" y1="100.7" x2="292.0" y2="100.7" stroke="#4da052" stroke-width="1.5" stroke-linecap="butt"/>
<polyline points="261.50,100.70 263.00,96.90 265.50,104.60 268.00,96.90 270.50,104.60 273.00,96.90 275.50,104.60 278.00,96.90 280.50,104.60 282.00,100.70" fill="none" stroke="#111" stroke-width="1.15" stroke-linejoin="miter"/>
<text x="256.5" y="98.2" font-size="2.6" fill="#bbbbbb" text-anchor="start" >1</text>
<text x="286.5" y="98.2" font-size="2.6" fill="#bbbbbb" text-anchor="start" >2</text>
<line x1="231.5" y1="110.7" x2="241.5" y2="110.7" stroke="#4da052" stroke-width="1.5" stroke-linecap="butt"/>
<line x1="262.0" y1="110.7" x2="272.0" y2="110.7" stroke="#4da052" stroke-width="1.5" stroke-linecap="butt"/>
<polyline points="241.50,110.70 243.00,106.90 245.50,114.60 248.00,106.90 250.50,114.60 253.00,106.90 255.50,114.60 258.00,106.90 260.50,114.60 262.00,110.70" fill="none" stroke="#111" stroke-width="1.15" stroke-linejoin="miter"/>
<text x="236.5" y="108.2" font-size="2.6" fill="#bbbbbb" text-anchor="start" >1</text>
<text x="266.5" y="108.2" font-size="2.6" fill="#bbbbbb" text-anchor="start" >2</text>
<line x1="211.5" y1="120.7" x2="221.5" y2="120.7" stroke="#4da052" stroke-width="1.5" stroke-linecap="butt"/>
<line x1="242.0" y1="120.7" x2="252.0" y2="120.7" stroke="#4da052" stroke-width="1.5" stroke-linecap="butt"/>
<polyline points="221.50,120.70 223.00,116.90 225.50,124.60 228.00,116.90 230.50,124.60 233.00,116.90 235.50,124.60 238.00,116.90 240.50,124.60 242.00,120.70" fill="none" stroke="#111" stroke-width="1.15" stroke-linejoin="miter"/>
<text x="216.5" y="118.2" font-size="2.6" fill="#bbbbbb" text-anchor="start" >1</text>
<text x="246.5" y="118.2" font-size="2.6" fill="#bbbbbb" text-anchor="start" >2</text>
<line x1="191.5" y1="130.7" x2="201.5" y2="130.7" stroke="#4da052" stroke-width="1.5" stroke-linecap="butt"/>
<line x1="222.0" y1="130.7" x2="232.0" y2="130.7" stroke="#4da052" stroke-width="1.5" stroke-linecap="butt"/>
<polyline points="201.50,130.70 203.00,126.90 205.50,134.60 208.00,126.90 210.50,134.60 213.00,126.90 215.50,134.60 218.00,126.90 220.50,134.60 222.00,130.70" fill="none" stroke="#111" stroke-width="1.15" stroke-linejoin="miter"/>
<text x="196.5" y="128.2" font-size="2.6" fill="#bbbbbb" text-anchor="start" >1</text>
<text x="226.5" y="128.2" font-size="2.6" fill="#bbbbbb" text-anchor="start" >2</text>
<line x1="171.5" y1="140.7" x2="181.5" y2="140.7" stroke="#4da052" stroke-width="1.5" stroke-linecap="butt"/>
<line x1="202.0" y1="140.7" x2="212.0" y2="140.7" stroke="#4da052" stroke-width="1.5" stroke-linecap="butt"/>
<polyline points="181.50,140.70 183.00,136.90 185.50,144.60 188.00,136.90 190.50,144.60 193.00,136.90 195.50,144.60 198.00,136.90 200.50,144.60 202.00,140.70" fill="none" stroke="#111" stroke-width="1.15" stroke-linejoin="miter"/>
<text x="176.5" y="138.2" font-size="2.6" fill="#bbbbbb" text-anchor="start" >1</text>
<text x="206.5" y="138.2" font-size="2.6" fill="#bbbbbb" text-anchor="start" >2</text>
<line x1="151.5" y1="150.7" x2="161.5" y2="150.7" stroke="#4da052" stroke-width="1.5" stroke-linecap="butt"/>
<line x1="182.0" y1="150.7" x2="192.0" y2="150.7" stroke="#4da052" stroke-width="1.5" stroke-linecap="butt"/>
<polyline points="161.50,150.70 163.00,146.90 165.50,154.60 168.00,146.90 170.50,154.60 173.00,146.90 175.50,154.60 178.00,146.90 180.50,154.60 182.00,150.70" fill="none" stroke="#111" stroke-width="1.15" stroke-linejoin="miter"/>
<text x="156.5" y="148.2" font-size="2.6" fill="#bbbbbb" text-anchor="start" >1</text>
<text x="186.5" y="148.2" font-size="2.6" fill="#bbbbbb" text-anchor="start" >2</text>
<line x1="552" y1="231" x2="562" y2="231" stroke="#4da052" stroke-width="1.5" stroke-linecap="butt"/>
<line x1="582.5" y1="231" x2="592.5" y2="231" stroke="#4da052" stroke-width="1.5" stroke-linecap="butt"/>
<polyline points="562.00,231.00 563.50,227.20 566.00,234.90 568.50,227.20 571.00,234.90 573.50,227.20 576.00,234.90 578.50,227.20 581.00,234.90 582.50,231.00" fill="none" stroke="#111" stroke-width="1.15" stroke-linejoin="miter"/>
<text x="557" y="228.5" font-size="2.6" fill="#bbbbbb" text-anchor="start" >1</text>
<text x="587" y="228.5" font-size="2.6" fill="#bbbbbb" text-anchor="start" >2</text>
<line x1="552" y1="251" x2="562" y2="251" stroke="#4da052" stroke-width="1.5" stroke-linecap="butt"/>
<line x1="582.5" y1="251" x2="592.5" y2="251" stroke="#4da052" stroke-width="1.5" stroke-linecap="butt"/>
<polyline points="562.00,251.00 563.50,247.20 566.00,254.90 568.50,247.20 571.00,254.90 573.50,247.20 576.00,254.90 578.50,247.20 581.00,254.90 582.50,251.00" fill="none" stroke="#111" stroke-width="1.15" stroke-linejoin="miter"/>
<text x="557" y="248.5" font-size="2.6" fill="#bbbbbb" text-anchor="start" >1</text>
<text x="587" y="248.5" font-size="2.6" fill="#bbbbbb" text-anchor="start" >2</text>
<line x1="261.8" y1="210.4" x2="261.8" y2="351.6" stroke="#111" stroke-width="1.4" stroke-linecap="butt"/>
<line x1="261.8" y1="211" x2="272.0" y2="211" stroke="#111" stroke-width="1.4" stroke-linecap="butt"/>
<line x1="272.0" y1="205.7" x2="272.0" y2="216.3" stroke="#404040" stroke-width="1.4" stroke-linecap="butt"/>
<polygon points="273.0,211 282.1,206 282.1,216" fill="none" stroke="#111" stroke-width="1.25"/>
<line x1="282.1" y1="211" x2="292.1" y2="211" stroke="#6a6a6a" stroke-width="1.15" stroke-linecap="butt"/>
<line x1="274.25" y1="204.75" x2="269.25" y2="199.5" stroke="#111" stroke-width="0.9" stroke-linecap="butt"/>
<polygon points="269.25,199.5 272.19,200.84 270.45,202.50" fill="#111"/>
<line x1="278.75" y1="204.25" x2="274.0" y2="199" stroke="#111" stroke-width="0.9" stroke-linecap="butt"/>
<polygon points="274.0,199 276.90,200.42 275.12,202.03" fill="#111"/>
<text x="263.3" y="208.4" font-size="2.7" fill="#8c8c8c" text-anchor="start" >LED1</text>
<line x1="261.8" y1="231" x2="272.0" y2="231" stroke="#111" stroke-width="1.4" stroke-linecap="butt"/>
<line x1="272.0" y1="225.7" x2="272.0" y2="236.3" stroke="#404040" stroke-width="1.4" stroke-linecap="butt"/>
<polygon points="273.0,231 282.1,226 282.1,236" fill="none" stroke="#111" stroke-width="1.25"/>
<line x1="282.1" y1="231" x2="292.1" y2="231" stroke="#6a6a6a" stroke-width="1.15" stroke-linecap="butt"/>
<line x1="274.25" y1="224.75" x2="269.25" y2="219.5" stroke="#111" stroke-width="0.9" stroke-linecap="butt"/>
<polygon points="269.25,219.5 272.19,220.84 270.45,222.50" fill="#111"/>
<line x1="278.75" y1="224.25" x2="274.0" y2="219" stroke="#111" stroke-width="0.9" stroke-linecap="butt"/>
<polygon points="274.0,219 276.90,220.42 275.12,222.03" fill="#111"/>
<text x="263.3" y="228.4" font-size="2.7" fill="#8c8c8c" text-anchor="start" >LED1</text>
<line x1="261.8" y1="251" x2="272.0" y2="251" stroke="#111" stroke-width="1.4" stroke-linecap="butt"/>
<line x1="272.0" y1="245.7" x2="272.0" y2="256.3" stroke="#404040" stroke-width="1.4" stroke-linecap="butt"/>
<polygon points="273.0,251 282.1,246 282.1,256" fill="none" stroke="#111" stroke-width="1.25"/>
<line x1="282.1" y1="251" x2="292.1" y2="251" stroke="#6a6a6a" stroke-width="1.15" stroke-linecap="butt"/>
<line x1="274.25" y1="244.75" x2="269.25" y2="239.5" stroke="#111" stroke-width="0.9" stroke-linecap="butt"/>
<polygon points="269.25,239.5 272.19,240.84 270.45,242.50" fill="#111"/>
<line x1="278.75" y1="244.25" x2="274.0" y2="239" stroke="#111" stroke-width="0.9" stroke-linecap="butt"/>
<polygon points="274.0,239 276.90,240.42 275.12,242.03" fill="#111"/>
<text x="263.3" y="248.4" font-size="2.7" fill="#8c8c8c" text-anchor="start" >LED1</text>
<line x1="261.8" y1="271" x2="272.0" y2="271" stroke="#111" stroke-width="1.4" stroke-linecap="butt"/>
<line x1="272.0" y1="265.7" x2="272.0" y2="276.3" stroke="#404040" stroke-width="1.4" stroke-linecap="butt"/>
<polygon points="273.0,271 282.1,266 282.1,276" fill="none" stroke="#111" stroke-width="1.25"/>
<line x1="282.1" y1="271" x2="292.1" y2="271" stroke="#6a6a6a" stroke-width="1.15" stroke-linecap="butt"/>
<line x1="274.25" y1="264.75" x2="269.25" y2="259.5" stroke="#111" stroke-width="0.9" stroke-linecap="butt"/>
<polygon points="269.25,259.5 272.19,260.84 270.45,262.50" fill="#111"/>
<line x1="278.75" y1="264.25" x2="274.0" y2="259" stroke="#111" stroke-width="0.9" stroke-linecap="butt"/>
<polygon points="274.0,259 276.90,260.42 275.12,262.03" fill="#111"/>
<text x="263.3" y="268.4" font-size="2.7" fill="#8c8c8c" text-anchor="start" >LED1</text>
<line x1="261.8" y1="291" x2="272.0" y2="291" stroke="#111" stroke-width="1.4" stroke-linecap="butt"/>
<line x1="272.0" y1="285.7" x2="272.0" y2="296.3" stroke="#404040" stroke-width="1.4" stroke-linecap="butt"/>
<polygon points="273.0,291 282.1,286 282.1,296" fill="none" stroke="#111" stroke-width="1.25"/>
<line x1="282.1" y1="291" x2="292.1" y2="291" stroke="#6a6a6a" stroke-width="1.15" stroke-linecap="butt"/>
<line x1="274.25" y1="284.75" x2="269.25" y2="279.5" stroke="#111" stroke-width="0.9" stroke-linecap="butt"/>
<polygon points="269.25,279.5 272.19,280.84 270.45,282.50" fill="#111"/>
<line x1="278.75" y1="284.25" x2="274.0" y2="279" stroke="#111" stroke-width="0.9" stroke-linecap="butt"/>
<polygon points="274.0,279 276.90,280.42 275.12,282.03" fill="#111"/>
<text x="263.3" y="288.4" font-size="2.7" fill="#8c8c8c" text-anchor="start" >LED1</text>
<line x1="261.8" y1="311" x2="272.0" y2="311" stroke="#111" stroke-width="1.4" stroke-linecap="butt"/>
<line x1="272.0" y1="305.7" x2="272.0" y2="316.3" stroke="#404040" stroke-width="1.4" stroke-linecap="butt"/>
<polygon points="273.0,311 282.1,306 282.1,316" fill="none" stroke="#111" stroke-width="1.25"/>
<line x1="282.1" y1="311" x2="292.1" y2="311" stroke="#6a6a6a" stroke-width="1.15" stroke-linecap="butt"/>
<line x1="274.25" y1="304.75" x2="269.25" y2="299.5" stroke="#111" stroke-width="0.9" stroke-linecap="butt"/>
<polygon points="269.25,299.5 272.19,300.84 270.45,302.50" fill="#111"/>
<line x1="278.75" y1="304.25" x2="274.0" y2="299" stroke="#111" stroke-width="0.9" stroke-linecap="butt"/>
<polygon points="274.0,299 276.90,300.42 275.12,302.03" fill="#111"/>
<text x="263.3" y="308.4" font-size="2.7" fill="#8c8c8c" text-anchor="start" >LED1</text>
<line x1="261.8" y1="331" x2="272.0" y2="331" stroke="#111" stroke-width="1.4" stroke-linecap="butt"/>
<line x1="272.0" y1="325.7" x2="272.0" y2="336.3" stroke="#404040" stroke-width="1.4" stroke-linecap="butt"/>
<polygon points="273.0,331 282.1,326 282.1,336" fill="none" stroke="#111" stroke-width="1.25"/>
<line x1="282.1" y1="331" x2="292.1" y2="331" stroke="#6a6a6a" stroke-width="1.15" stroke-linecap="butt"/>
<line x1="274.25" y1="324.75" x2="269.25" y2="319.5" stroke="#111" stroke-width="0.9" stroke-linecap="butt"/>
<polygon points="269.25,319.5 272.19,320.84 270.45,322.50" fill="#111"/>
<line x1="278.75" y1="324.25" x2="274.0" y2="319" stroke="#111" stroke-width="0.9" stroke-linecap="butt"/>
<polygon points="274.0,319 276.90,320.42 275.12,322.03" fill="#111"/>
<text x="263.3" y="328.4" font-size="2.7" fill="#8c8c8c" text-anchor="start" >LED1</text>
<line x1="261.8" y1="351" x2="272.0" y2="351" stroke="#111" stroke-width="1.4" stroke-linecap="butt"/>
<line x1="272.0" y1="345.7" x2="272.0" y2="356.3" stroke="#404040" stroke-width="1.4" stroke-linecap="butt"/>
<polygon points="273.0,351 282.1,346 282.1,356" fill="none" stroke="#111" stroke-width="1.25"/>
<line x1="282.1" y1="351" x2="292.1" y2="351" stroke="#6a6a6a" stroke-width="1.15" stroke-linecap="butt"/>
<line x1="274.25" y1="344.75" x2="269.25" y2="339.5" stroke="#111" stroke-width="0.9" stroke-linecap="butt"/>
<polygon points="269.25,339.5 272.19,340.84 270.45,342.50" fill="#111"/>
<line x1="278.75" y1="344.25" x2="274.0" y2="339" stroke="#111" stroke-width="0.9" stroke-linecap="butt"/>
<polygon points="274.0,339 276.90,340.42 275.12,342.03" fill="#111"/>
<text x="263.3" y="348.4" font-size="2.7" fill="#8c8c8c" text-anchor="start" >LED1</text>
<line x1="462.5" y1="210.4" x2="462.5" y2="351.6" stroke="#111" stroke-width="1.4" stroke-linecap="butt"/>
<line x1="462.5" y1="211" x2="472.7" y2="211" stroke="#111" stroke-width="1.4" stroke-linecap="butt"/>
<line x1="472.7" y1="205.7" x2="472.7" y2="216.3" stroke="#404040" stroke-width="1.4" stroke-linecap="butt"/>
<polygon points="473.7,211 482.8,206 482.8,216" fill="none" stroke="#111" stroke-width="1.25"/>
<line x1="482.8" y1="211" x2="492.8" y2="211" stroke="#6a6a6a" stroke-width="1.15" stroke-linecap="butt"/>
<line x1="474.95" y1="204.75" x2="469.95" y2="199.5" stroke="#111" stroke-width="0.9" stroke-linecap="butt"/>
<polygon points="469.95,199.5 472.89,200.84 471.15,202.50" fill="#111"/>
<line x1="479.45" y1="204.25" x2="474.7" y2="199" stroke="#111" stroke-width="0.9" stroke-linecap="butt"/>
<polygon points="474.7,199 477.60,200.42 475.82,202.03" fill="#111"/>
<text x="464.0" y="208.4" font-size="2.7" fill="#8c8c8c" text-anchor="start" >LED1</text>
<line x1="462.5" y1="231" x2="472.7" y2="231" stroke="#111" stroke-width="1.4" stroke-linecap="butt"/>
<line x1="472.7" y1="225.7" x2="472.7" y2="236.3" stroke="#404040" stroke-width="1.4" stroke-linecap="butt"/>
<polygon points="473.7,231 482.8,226 482.8,236" fill="none" stroke="#111" stroke-width="1.25"/>
<line x1="482.8" y1="231" x2="492.8" y2="231" stroke="#6a6a6a" stroke-width="1.15" stroke-linecap="butt"/>
<line x1="474.95" y1="224.75" x2="469.95" y2="219.5" stroke="#111" stroke-width="0.9" stroke-linecap="butt"/>
<polygon points="469.95,219.5 472.89,220.84 471.15,222.50" fill="#111"/>
<line x1="479.45" y1="224.25" x2="474.7" y2="219" stroke="#111" stroke-width="0.9" stroke-linecap="butt"/>
<polygon points="474.7,219 477.60,220.42 475.82,222.03" fill="#111"/>
<text x="464.0" y="228.4" font-size="2.7" fill="#8c8c8c" text-anchor="start" >LED1</text>
<line x1="462.5" y1="251" x2="472.7" y2="251" stroke="#111" stroke-width="1.4" stroke-linecap="butt"/>
<line x1="472.7" y1="245.7" x2="472.7" y2="256.3" stroke="#404040" stroke-width="1.4" stroke-linecap="butt"/>
<polygon points="473.7,251 482.8,246 482.8,256" fill="none" stroke="#111" stroke-width="1.25"/>
<line x1="482.8" y1="251" x2="492.8" y2="251" stroke="#6a6a6a" stroke-width="1.15" stroke-linecap="butt"/>
<line x1="474.95" y1="244.75" x2="469.95" y2="239.5" stroke="#111" stroke-width="0.9" stroke-linecap="butt"/>
<polygon points="469.95,239.5 472.89,240.84 471.15,242.50" fill="#111"/>
<line x1="479.45" y1="244.25" x2="474.7" y2="239" stroke="#111" stroke-width="0.9" stroke-linecap="butt"/>
<polygon points="474.7,239 477.60,240.42 475.82,242.03" fill="#111"/>
<text x="464.0" y="248.4" font-size="2.7" fill="#8c8c8c" text-anchor="start" >LED1</text>
<line x1="462.5" y1="271" x2="472.7" y2="271" stroke="#111" stroke-width="1.4" stroke-linecap="butt"/>
<line x1="472.7" y1="265.7" x2="472.7" y2="276.3" stroke="#404040" stroke-width="1.4" stroke-linecap="butt"/>
<polygon points="473.7,271 482.8,266 482.8,276" fill="none" stroke="#111" stroke-width="1.25"/>
<line x1="482.8" y1="271" x2="492.8" y2="271" stroke="#6a6a6a" stroke-width="1.15" stroke-linecap="butt"/>
<line x1="474.95" y1="264.75" x2="469.95" y2="259.5" stroke="#111" stroke-width="0.9" stroke-linecap="butt"/>
<polygon points="469.95,259.5 472.89,260.84 471.15,262.50" fill="#111"/>
<line x1="479.45" y1="264.25" x2="474.7" y2="259" stroke="#111" stroke-width="0.9" stroke-linecap="butt"/>
<polygon points="474.7,259 477.60,260.42 475.82,262.03" fill="#111"/>
<text x="464.0" y="268.4" font-size="2.7" fill="#8c8c8c" text-anchor="start" >LED1</text>
<line x1="462.5" y1="291" x2="472.7" y2="291" stroke="#111" stroke-width="1.4" stroke-linecap="butt"/>
<line x1="472.7" y1="285.7" x2="472.7" y2="296.3" stroke="#404040" stroke-width="1.4" stroke-linecap="butt"/>
<polygon points="473.7,291 482.8,286 482.8,296" fill="none" stroke="#111" stroke-width="1.25"/>
<line x1="482.8" y1="291" x2="492.8" y2="291" stroke="#6a6a6a" stroke-width="1.15" stroke-linecap="butt"/>
<line x1="474.95" y1="284.75" x2="469.95" y2="279.5" stroke="#111" stroke-width="0.9" stroke-linecap="butt"/>
<polygon points="469.95,279.5 472.89,280.84 471.15,282.50" fill="#111"/>
<line x1="479.45" y1="284.25" x2="474.7" y2="279" stroke="#111" stroke-width="0.9" stroke-linecap="butt"/>
<polygon points="474.7,279 477.60,280.42 475.82,282.03" fill="#111"/>
<text x="464.0" y="288.4" font-size="2.7" fill="#8c8c8c" text-anchor="start" >LED1</text>
<line x1="462.5" y1="311" x2="472.7" y2="311" stroke="#111" stroke-width="1.4" stroke-linecap="butt"/>
<line x1="472.7" y1="305.7" x2="472.7" y2="316.3" stroke="#404040" stroke-width="1.4" stroke-linecap="butt"/>
<polygon points="473.7,311 482.8,306 482.8,316" fill="none" stroke="#111" stroke-width="1.25"/>
<line x1="482.8" y1="311" x2="492.8" y2="311" stroke="#6a6a6a" stroke-width="1.15" stroke-linecap="butt"/>
<line x1="474.95" y1="304.75" x2="469.95" y2="299.5" stroke="#111" stroke-width="0.9" stroke-linecap="butt"/>
<polygon points="469.95,299.5 472.89,300.84 471.15,302.50" fill="#111"/>
<line x1="479.45" y1="304.25" x2="474.7" y2="299" stroke="#111" stroke-width="0.9" stroke-linecap="butt"/>
<polygon points="474.7,299 477.60,300.42 475.82,302.03" fill="#111"/>
<text x="464.0" y="308.4" font-size="2.7" fill="#8c8c8c" text-anchor="start" >LED1</text>
<line x1="462.5" y1="331" x2="472.7" y2="331" stroke="#111" stroke-width="1.4" stroke-linecap="butt"/>
<line x1="472.7" y1="325.7" x2="472.7" y2="336.3" stroke="#404040" stroke-width="1.4" stroke-linecap="butt"/>
<polygon points="473.7,331 482.8,326 482.8,336" fill="none" stroke="#111" stroke-width="1.25"/>
<line x1="482.8" y1="331" x2="492.8" y2="331" stroke="#6a6a6a" stroke-width="1.15" stroke-linecap="butt"/>
<line x1="474.95" y1="324.75" x2="469.95" y2="319.5" stroke="#111" stroke-width="0.9" stroke-linecap="butt"/>
<polygon points="469.95,319.5 472.89,320.84 471.15,322.50" fill="#111"/>
<line x1="479.45" y1="324.25" x2="474.7" y2="319" stroke="#111" stroke-width="0.9" stroke-linecap="butt"/>
<polygon points="474.7,319 477.60,320.42 475.82,322.03" fill="#111"/>
<text x="464.0" y="328.4" font-size="2.7" fill="#8c8c8c" text-anchor="start" >LED1</text>
<line x1="462.5" y1="351" x2="472.7" y2="351" stroke="#111" stroke-width="1.4" stroke-linecap="butt"/>
<line x1="472.7" y1="345.7" x2="472.7" y2="356.3" stroke="#404040" stroke-width="1.4" stroke-linecap="butt"/>
<polygon points="473.7,351 482.8,346 482.8,356" fill="none" stroke="#111" stroke-width="1.25"/>
<line x1="482.8" y1="351" x2="492.8" y2="351" stroke="#6a6a6a" stroke-width="1.15" stroke-linecap="butt"/>
<line x1="474.95" y1="344.75" x2="469.95" y2="339.5" stroke="#111" stroke-width="0.9" stroke-linecap="butt"/>
<polygon points="469.95,339.5 472.89,340.84 471.15,342.50" fill="#111"/>
<line x1="479.45" y1="344.25" x2="474.7" y2="339" stroke="#111" stroke-width="0.9" stroke-linecap="butt"/>
<polygon points="474.7,339 477.60,340.42 475.82,342.03" fill="#111"/>
<text x="464.0" y="348.4" font-size="2.7" fill="#8c8c8c" text-anchor="start" >LED1</text>
<text x="289.1" y="208.4" font-size="2.8" fill="#d09a9a" text-anchor="start" >+</text>
<text x="289.1" y="228.4" font-size="2.8" fill="#a9bfa9" text-anchor="start" >+</text>
<text x="289.1" y="248.4" font-size="2.8" fill="#a9bfa9" text-anchor="start" >+</text>
<text x="289.1" y="268.4" font-size="2.8" fill="#a9bfa9" text-anchor="start" >+</text>
<text x="289.1" y="288.4" font-size="2.8" fill="#a9bfa9" text-anchor="start" >+</text>
<text x="289.1" y="308.4" font-size="2.8" fill="#a9bfa9" text-anchor="start" >+</text>
<text x="289.1" y="328.4" font-size="2.8" fill="#a9bfa9" text-anchor="start" >+</text>
<text x="289.1" y="348.4" font-size="2.8" fill="#a9bfa9" text-anchor="start" >+</text>
<line x1="290.1" y1="231" x2="292.1" y2="231" stroke="#3aa04a" stroke-width="1.5" stroke-linecap="butt"/>
<line x1="290.1" y1="251" x2="292.1" y2="251" stroke="#3aa04a" stroke-width="1.5" stroke-linecap="butt"/>
<line x1="290.1" y1="271" x2="292.1" y2="271" stroke="#3aa04a" stroke-width="1.5" stroke-linecap="butt"/>
<line x1="290.1" y1="291" x2="292.1" y2="291" stroke="#3aa04a" stroke-width="1.5" stroke-linecap="butt"/>
<line x1="290.1" y1="311" x2="292.1" y2="311" stroke="#3aa04a" stroke-width="1.5" stroke-linecap="butt"/>
<line x1="290.1" y1="331" x2="292.1" y2="331" stroke="#3aa04a" stroke-width="1.5" stroke-linecap="butt"/>
<line x1="290.1" y1="351" x2="292.1" y2="351" stroke="#3aa04a" stroke-width="1.5" stroke-linecap="butt"/>
<text x="489.8" y="208.4" font-size="2.8" fill="#d09a9a" text-anchor="start" >+</text>
<text x="489.8" y="228.4" font-size="2.8" fill="#a9bfa9" text-anchor="start" >+</text>
<text x="489.8" y="248.4" font-size="2.8" fill="#a9bfa9" text-anchor="start" >+</text>
<text x="489.8" y="268.4" font-size="2.8" fill="#a9bfa9" text-anchor="start" >+</text>
<text x="489.8" y="288.4" font-size="2.8" fill="#a9bfa9" text-anchor="start" >+</text>
<text x="489.8" y="308.4" font-size="2.8" fill="#a9bfa9" text-anchor="start" >+</text>
<text x="489.8" y="328.4" font-size="2.8" fill="#a9bfa9" text-anchor="start" >+</text>
<text x="489.8" y="348.4" font-size="2.8" fill="#a9bfa9" text-anchor="start" >+</text>
<line x1="490.8" y1="231" x2="492.8" y2="231" stroke="#3aa04a" stroke-width="1.5" stroke-linecap="butt"/>
<line x1="490.8" y1="251" x2="492.8" y2="251" stroke="#3aa04a" stroke-width="1.5" stroke-linecap="butt"/>
<line x1="490.8" y1="271" x2="492.8" y2="271" stroke="#3aa04a" stroke-width="1.5" stroke-linecap="butt"/>
<line x1="490.8" y1="291" x2="492.8" y2="291" stroke="#3aa04a" stroke-width="1.5" stroke-linecap="butt"/>
<line x1="490.8" y1="311" x2="492.8" y2="311" stroke="#3aa04a" stroke-width="1.5" stroke-linecap="butt"/>
<line x1="490.8" y1="331" x2="492.8" y2="331" stroke="#3aa04a" stroke-width="1.5" stroke-linecap="butt"/>
<line x1="490.8" y1="351" x2="492.8" y2="351" stroke="#3aa04a" stroke-width="1.5" stroke-linecap="butt"/>
<circle cx="542.3" cy="40.7" r="0.85" fill="#2e6031"/>
<circle cx="542.3" cy="271" r="0.85" fill="#2e6031"/>
<circle cx="532.2" cy="50.7" r="0.85" fill="#345068"/>
<circle cx="532.2" cy="291" r="0.85" fill="#345068"/>
<circle cx="522" cy="60.7" r="0.85" fill="#641c1c"/>
<circle cx="522" cy="311" r="0.85" fill="#641c1c"/>
<circle cx="512" cy="70.7" r="0.85" fill="#76407c"/>
<circle cx="512" cy="331" r="0.85" fill="#76407c"/>
<circle cx="502" cy="80.7" r="0.85" fill="#665d44"/>
<circle cx="502" cy="351" r="0.85" fill="#665d44"/>
<circle cx="361.7" cy="90.7" r="0.85" fill="#345068"/>
<circle cx="361.7" cy="231" r="0.85" fill="#345068"/>
<circle cx="351.6" cy="100.7" r="0.85" fill="#2e6031"/>
<circle cx="351.6" cy="251" r="0.85" fill="#2e6031"/>
<circle cx="341.6" cy="110.7" r="0.85" fill="#345068"/>
<circle cx="341.6" cy="271" r="0.85" fill="#345068"/>
<circle cx="331.6" cy="120.7" r="0.85" fill="#503b5c"/>
<circle cx="331.6" cy="291" r="0.85" fill="#503b5c"/>
<circle cx="321.4" cy="130.7" r="0.85" fill="#90883e"/>
<circle cx="321.4" cy="311" r="0.85" fill="#90883e"/>
<circle cx="301.4" cy="140.7" r="0.85" fill="#805a39"/>
<circle cx="301.4" cy="351" r="0.85" fill="#805a39"/>
<circle cx="311.4" cy="150.7" r="0.85" fill="#503b5c"/>
<circle cx="311.4" cy="331" r="0.85" fill="#503b5c"/>
<circle cx="201.3" cy="190.7" r="0.85" fill="#345068"/>
<circle cx="201.3" cy="381.2" r="0.85" fill="#345068"/>
<circle cx="592" cy="381.2" r="0.85" fill="#345068"/>
<circle cx="191.1" cy="200.7" r="0.85" fill="#805a39"/>
<circle cx="191.1" cy="391.1" r="0.85" fill="#805a39"/>
<circle cx="602.3" cy="391.1" r="0.85" fill="#805a39"/>
<circle cx="602.3" cy="231" r="0.85" fill="#805a39"/>
<text x="175.6" y="164" font-size="6.5" fill="#1a1a1a" text-anchor="start" textLength="32.2" lengthAdjust="spacingAndGlyphs" stroke="#1a1a1a" stroke-width="0.15">All R1–14</text>
<text x="175.6" y="171.2" font-size="6.5" fill="#1a1a1a" text-anchor="start" textLength="18.4" lengthAdjust="spacingAndGlyphs" stroke="#1a1a1a" stroke-width="0.15">220Ω</text>
<text x="175.6" y="177.0" font-size="6.3" fill="#1a1a1a" text-anchor="start" textLength="14.4" lengthAdjust="spacingAndGlyphs" stroke="#1a1a1a" stroke-width="0.15">±5%</text>
<g fill="none" stroke="#7f7f7f" stroke-width="1.9" stroke-linecap="butt">
<path d="M542.9,495.6 V486.3 Q542.9,483.4 546.3,483.4"/>
<path d="M540.4,487.6 H546.6"/>
<path d="M549.2,494.2 V487.0 M549.2,490.0 Q549.9,487.4 553.2,487.4"/>
<path d="M558.5,487.4 V495.6"/>
<path d="M564.3,483.6 V492.8 Q564.3,495.2 568.8,495.2 M562.3,487.6 H568.4"/>
<path d="M569.9,487.6 H577.6 L570.2,495.0 H575.6"/>
<path d="M582.0,487.4 V495.6"/>
<path d="M586.4,495.6 V487.4 M586.4,490.4 Q587,487.4 590,487.4 Q592.9,487.4 592.9,490.6 V494.2"/>
<path d="M603.5,487.4 V497.5 Q603.5,500.5 598,500.5 M603.5,491.2 Q603.2,487.4 600.2,487.4 Q597,487.4 597,491.4 Q597,495.3 600.2,495.3 Q603.3,495.3 603.5,492"/>
<circle cx="549.3" cy="495.2" r="1.15" stroke-width="0.95"/>
<circle cx="558.5" cy="483.8" r="1.25" stroke-width="0.95"/>
<circle cx="582.0" cy="483.8" r="1.25" stroke-width="0.95"/>
<circle cx="576.6" cy="495.1" r="1.15" stroke-width="0.95"/>
<circle cx="592.9" cy="495.2" r="1.15" stroke-width="0.95"/>
</g>
</svg></body></html>
